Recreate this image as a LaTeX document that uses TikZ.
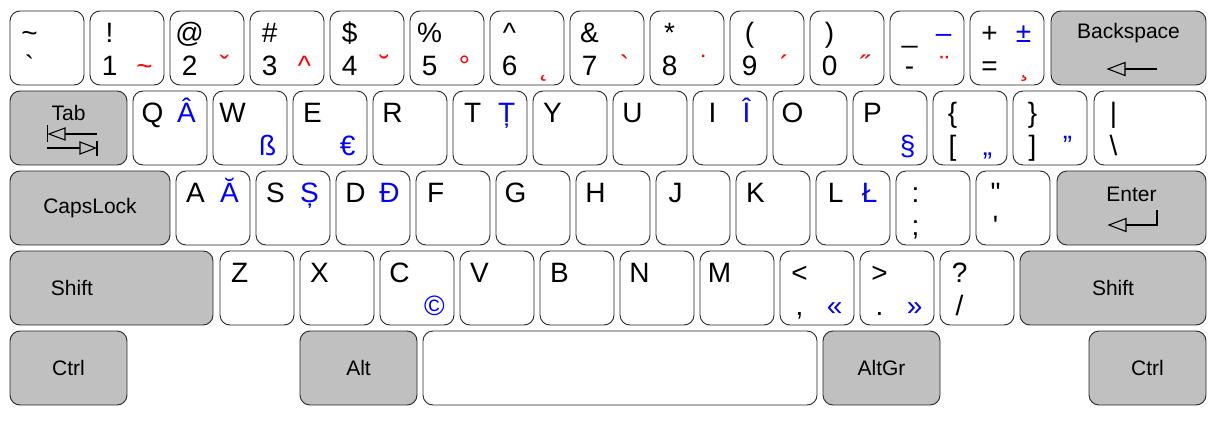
\documentclass[tikz,border=0pt]{standalone}
\usepackage{fontspec}
\setmainfont{Liberation Sans}[Ligatures=TeXOff]
\usetikzlibrary{positioning}

\definecolor{keygray}{RGB}{192,192,192}
\definecolor{altblue}{RGB}{0,0,255}
\definecolor{deadred}{RGB}{255,0,0}

\tikzset{
  key/.style={draw=black!85, line width=0.9pt, rounded corners=10pt, fill=white,
    minimum width=74pt, minimum height=74pt, inner sep=0pt},
  fkey/.style={key, fill=keygray, font=\fontsize{21}{21}\selectfont},
  modtext/.style={font=\fontsize{21}{21}\selectfont, inner sep=0pt},
  ch/.style={font=\fontsize{28}{28}\selectfont, inner sep=0pt, anchor=base},
  extra/.style={ch, text=altblue},
  dead/.style={ch, text=deadred},
  ul/.style={xshift=20pt, yshift=-32pt},
  ll/.style={xshift=20pt, yshift=-65pt},
  ur/.style={xshift=54pt, yshift=-32pt},
  lr/.style={xshift=55pt, yshift=-65pt},
  icon/.style={line width=1.1pt}
}

\begin{document}
\begin{tikzpicture}[x=1pt, y=1pt, node distance=80pt]
  \useasboundingbox (0,0) rectangle (1230,-425);

  % number row
  \node (tilde) [key] at (47,-48) {};
  \node (tilde1) [ch, ul] at (tilde.north west) {\textasciitilde};
  \node (tilde2) [ch, ll] at (tilde.north west) {\symbol{96}};

  \node (n1) [key, right of=tilde] {};
  \node (n1a) [ch, ul] at (n1.north west) {!};
  \node (n1b) [ch, ll] at (n1.north west) {1};
  \node (n1d) [dead, lr] at (n1.north west) {\textasciitilde};

  \node (n2) [key, right of=n1] {};
  \node (n2a) [ch, ul] at (n2.north west) {@};
  \node (n2b) [ch, ll] at (n2.north west) {2};
  \node (n2d) [dead, lr] at (n2.north west) {ˇ};

  \node (n3) [key, right of=n2] {};
  \node (n3a) [ch, ul] at (n3.north west) {\#};
  \node (n3b) [ch, ll] at (n3.north west) {3};
  \node (n3d) [dead, lr] at (n3.north west) {\textasciicircum};

  \node (n4) [key, right of=n3] {};
  \node (n4a) [ch, ul] at (n4.north west) {\$};
  \node (n4b) [ch, ll] at (n4.north west) {4};
  \node (n4d) [dead, lr] at (n4.north west) {˘};

  \node (n5) [key, right of=n4] {};
  \node (n5a) [ch, ul] at (n5.north west) {\%};
  \node (n5b) [ch, ll] at (n5.north west) {5};
  \node (n5d) [dead, lr] at (n5.north west) {°};

  \node (n6) [key, right of=n5] {};
  \node (n6a) [ch, ul] at (n6.north west) {\textasciicircum};
  \node (n6b) [ch, ll] at (n6.north west) {6};
  \node (n6d) [dead, lr] at (n6.north west) {˛};

  \node (n7) [key, right of=n6] {};
  \node (n7a) [ch, ul] at (n7.north west) {\&};
  \node (n7b) [ch, ll] at (n7.north west) {7};
  \node (n7d) [dead, lr] at (n7.north west) {\symbol{96}};

  \node (n8) [key, right of=n7] {};
  \node (n8a) [ch, ul] at (n8.north west) {*};
  \node (n8b) [ch, ll] at (n8.north west) {8};
  \node (n8d) [dead, lr] at (n8.north west) {˙};

  \node (n9) [key, right of=n8] {};
  \node (n9a) [ch, ul] at (n9.north west) {(};
  \node (n9b) [ch, ll] at (n9.north west) {9};
  \node (n9d) [dead, lr] at (n9.north west) {´};

  \node (n0) [key, right of=n9] {};
  \node (n0a) [ch, ul] at (n0.north west) {)};
  \node (n0b) [ch, ll] at (n0.north west) {0};
  \node (n0d) [dead, lr] at (n0.north west) {˝};

  \node (minus) [key, right of=n0] {};
  \node (minus1) [ch, ul] at (minus.north west) {\_};
  \node (minus2) [ch, ll] at (minus.north west) {-};
  \node (minus3) [extra, ur] at (minus.north west) {–};
  \node (minus4) [dead, lr] at (minus.north west) {¨};

  \node (equal) [key, right of=minus] {};
  \node (equal1) [ch, ul] at (equal.north west) {+};
  \node (equal2) [ch, ll] at (equal.north west) {=};
  \node (equal3) [extra, ur] at (equal.north west) {±};
  \node (equal4) [dead, lr] at (equal.north west) {¸};

  \node (bksp) [fkey, minimum width=155pt, node distance=121.5pt, right of=equal] {};
  \node (bksp1) [modtext] at ([yshift=-23pt]bksp.north) {Backspace};
  \begin{scope}[shift={(bksp.center)}, icon]
    \draw (-20.5,-21) -- (-3.5,-14.5) -- (-3.5,-27.5) -- cycle;
    \draw (-3.5,-21) -- (28.5,-21);
  \end{scope}

  % top letter row
  \node (tab) [fkey, minimum width=117pt] at (68.5,-128) {};
  \node (tab1) [modtext] at ([yshift=-22pt]tab.north) {Tab};
  \begin{scope}[shift={(tab.center)}, icon]
    \draw (-21,3) -- (-21,-14);
    \draw (-19.5,-6) -- (-3.5,0) -- (-3.5,-12) -- cycle;
    \draw (-3.5,-6) -- (28.5,-6);
    \draw (-22,-20) -- (11.5,-20);
    \draw (27,-20) -- (11.5,-14) -- (11.5,-26) -- cycle;
    \draw (28.5,-13) -- (28.5,-28);
  \end{scope}

  \node (Q) [key, node distance=101.5pt, right of=tab] {};
  \node (Q1) [ch, ul] at (Q.north west) {Q};
  \node (Q3) [extra, ur] at (Q.north west) {Â};

  \node (W) [key, right of=Q] {};
  \node (W1) [ch, ul] at (W.north west) {W};
  \node (W4) [extra, lr] at (W.north west) {ß};

  \node (E) [key, right of=W] {};
  \node (E1) [ch, ul] at (E.north west) {E};
  \node (E4) [extra, lr] at (E.north west) {€};

  \node (R) [key, right of=E] {};
  \node (R1) [ch, ul] at (R.north west) {R};

  \node (T) [key, right of=R] {};
  \node (T1) [ch, ul] at (T.north west) {T};
  \node (T3) [extra, ur] at (T.north west) {Ț};

  \node (Y) [key, right of=T] {};
  \node (Y1) [ch, ul] at (Y.north west) {Y};

  \node (U) [key, right of=Y] {};
  \node (U1) [ch, ul] at (U.north west) {U};

  \node (I) [key, right of=U] {};
  \node (I1) [ch, ul] at (I.north west) {I};
  \node (I3) [extra, ur] at (I.north west) {Î};

  \node (O) [key, right of=I] {};
  \node (O1) [ch, ul] at (O.north west) {O};

  \node (P) [key, right of=O] {};
  \node (P1) [ch, ul] at (P.north west) {P};
  \node (P4) [extra, lr] at (P.north west) {§};

  \node (lbrack) [key, right of=P] {};
  \node (lbrack1) [ch, ul] at (lbrack.north west) {\{};
  \node (lbrack2) [ch, ll] at (lbrack.north west) {[};
  \node (lbrack4) [extra, lr] at (lbrack.north west) {„};

  \node (rbrack) [key, right of=lbrack] {};
  \node (rbrack1) [ch, ul] at (rbrack.north west) {\}};
  \node (rbrack2) [ch, ll] at (rbrack.north west) {]};
  \node (rbrack4) [extra, lr] at (rbrack.north west) {”};

  \node (bslash) [key, minimum width=112pt, node distance=100pt, right of=rbrack] {};
  \node (bslash1) [ch, ul] at (bslash.north west) {|};
  \node (bslash2) [ch, ll] at (bslash.north west) {\textbackslash};

  % home row
  \node (caps) [fkey, minimum width=160pt] at (90,-208) {CapsLock};

  \node (A) [key, node distance=123pt, right of=caps] {};
  \node (A1) [ch, ul] at (A.north west) {A};
  \node (A3) [extra, ur] at (A.north west) {Ă};

  \node (S) [key, right of=A] {};
  \node (S1) [ch, ul] at (S.north west) {S};
  \node (S3) [extra, ur] at (S.north west) {Ș};

  \node (D) [key, right of=S] {};
  \node (D1) [ch, ul] at (D.north west) {D};
  \node (D3) [extra, ur] at (D.north west) {Đ};

  \node (F) [key, right of=D] {};
  \node (F1) [ch, ul] at (F.north west) {F};

  \node (G) [key, right of=F] {};
  \node (G1) [ch, ul] at (G.north west) {G};

  \node (H) [key, right of=G] {};
  \node (H1) [ch, ul] at (H.north west) {H};

  \node (J) [key, right of=H] {};
  \node (J1) [ch, ul] at (J.north west) {J};

  \node (K) [key, right of=J] {};
  \node (K1) [ch, ul] at (K.north west) {K};

  \node (L) [key, right of=K] {};
  \node (L1) [ch, ul] at (L.north west) {L};
  \node (L3) [extra, ur] at (L.north west) {Ł};

  \node (semi) [key, right of=L] {};
  \node (semi1) [ch, ul] at (semi.north west) {:};
  \node (semi2) [ch, ll] at (semi.north west) {;};

  \node (quote) [key, right of=semi] {};
  \node (quote1) [ch, ul] at (quote.north west) {\symbol{34}};
  \node (quote2) [ch, ll] at (quote.north west) {\symbol{39}};

  \node (enter) [fkey, minimum width=149pt, node distance=118.5pt, right of=quote] {};
  \node (enter1) [modtext] at ([yshift=-24pt]enter.north) {Enter};
  \begin{scope}[shift={(enter.center)}, icon]
    \draw (-22.5,-17) -- (-5.5,-10.5) -- (-5.5,-23.5) -- cycle;
    \draw (-5.5,-17) -- (25.5,-17) -- (25.5,-2);
  \end{scope}

  % bottom letter row
  \node (lshift) [fkey, minimum width=203pt] at (111.5,-288) {};
  \node (lshift1) [modtext] at ([xshift=-39.5pt]lshift.center) {Shift};

  \node (Z) [key, node distance=145.5pt, right of=lshift] {};
  \node (Z1) [ch, ul] at (Z.north west) {Z};

  \node (X) [key, right of=Z] {};
  \node (X1) [ch, ul] at (X.north west) {X};

  \node (C) [key, right of=X] {};
  \node (C1) [ch, ul] at (C.north west) {C};
  \node (C4) [extra, lr] at (C.north west) {©};

  \node (V) [key, right of=C] {};
  \node (V1) [ch, ul] at (V.north west) {V};

  \node (B) [key, right of=V] {};
  \node (B1) [ch, ul] at (B.north west) {B};

  \node (N) [key, right of=B] {};
  \node (N1) [ch, ul] at (N.north west) {N};

  \node (M) [key, right of=N] {};
  \node (M1) [ch, ul] at (M.north west) {M};

  \node (comma) [key, right of=M] {};
  \node (comma1) [ch, ul] at (comma.north west) {<};
  \node (comma2) [ch, ll] at (comma.north west) {,};
  \node (comma4) [extra, lr] at (comma.north west) {«};

  \node (period) [key, right of=comma] {};
  \node (period1) [ch, ul] at (period.north west) {>};
  \node (period2) [ch, ll] at (period.north west) {.};
  \node (period4) [extra, lr] at (period.north west) {»};

  \node (slash) [key, right of=period] {};
  \node (slash1) [ch, ul] at (slash.north west) {?};
  \node (slash2) [ch, ll] at (slash.north west) {/};

  \node (rshift) [fkey, minimum width=186pt, node distance=136pt, right of=slash] {Shift};

  % space row
  \node (lctrl) [fkey, minimum width=117pt] at (68.5,-368) {Ctrl};
  \node (alt) [fkey, minimum width=117pt, node distance=290pt, right of=lctrl] {Alt};
  \node (space) [key, minimum width=394pt, node distance=261.5pt, right of=alt] {};
  \node (altgr) [fkey, minimum width=117pt, node distance=261.5pt, right of=space] {AltGr};
  \node (rctrl) [fkey, minimum width=117pt, node distance=266pt, right of=altgr] {Ctrl};

\end{tikzpicture}
\end{document}
